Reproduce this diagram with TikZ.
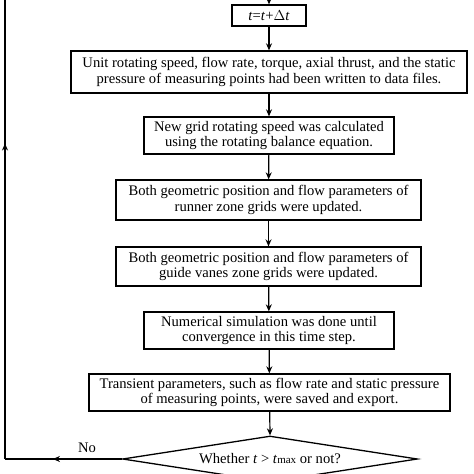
\documentclass[tikz,border=0pt]{standalone}
\usepackage{fontspec}
\setmainfont{Liberation Serif}
\usetikzlibrary{shapes.geometric,arrows.meta,decorations.markings}
\begin{document}
\begin{tikzpicture}[x=1pt,y=-1pt,
  box/.style={draw,line width=1.3pt,align=center,inner sep=0pt,font=\fontsize{14.6}{15.2}\selectfont},
  conn/.style={line width=1.2pt,-{Stealth[length=7pt,width=6pt]}},
  midarrow/.style={line width=1.2pt,decoration={markings,mark=at position #1 with {\arrow{Stealth[length=7pt,width=6pt]}}},postaction={decorate}}]
\useasboundingbox (0,0) rectangle (474,474);
\clip (0,0) rectangle (474,474);
\node[box,minimum width=74pt,minimum height=21pt] (b1) at (269,15.5) {\textit{t}=\textit{t}+$\Delta$\textit{t}};
\node[box,minimum width=396pt,minimum height=42pt] (b2) at (269,72) {Unit rotating speed, flow rate, torque, axial thrust, and the static\\pressure of measuring points had been written to data files.};
\node[box,minimum width=250pt,minimum height=37pt] (b3) at (269,135.5) {New grid rotating speed was calculated\\using the rotating balance equation.};
\node[box,minimum width=305pt,minimum height=40pt] (b4) at (268.5,200) {Both geometric position and flow parameters of\\runner zone grids were updated.};
\node[box,minimum width=305pt,minimum height=39pt] (b5) at (268.5,266.5) {Both geometric position and flow parameters of\\guide vanes zone grids were updated.};
\node[box,minimum width=250pt,minimum height=37pt] (b6) at (269,330.5) {Numerical simulation was done until\\convergence in this time step.};
\node[box,minimum width=361pt,minimum height=37pt] (b7) at (269.5,392.5) {Transient parameters, such as flow rate and static pressure\\of measuring points, were saved and export.};
\node[box,shape=diamond,aspect=6.4,minimum width=295pt,minimum height=46pt] (dec) at (270,459) {Whether \textit{t} > \textit{t}{\fontsize{11}{12}\selectfont max} or not?};
\coordinate (top) at (269,-5);
\coordinate (c1) at (5,459);
\coordinate (c2) at (5,-5);
\node[font=\fontsize{14.6}{15}\selectfont] (no) at (87,448) {No};
\draw[conn] (top) -- (b1);
\draw[conn] (b1) -- (b2);
\draw[conn] (b2) -- (b3);
\draw[conn] (b3) -- (b4);
\draw[conn] (b4) -- (b5);
\draw[conn] (b5) -- (b6);
\draw[conn] (b6) -- (b7);
\draw[conn] (b7) -- (dec.north);
\draw[midarrow=0.59] (dec.west) -- (c1);
\draw[midarrow=0.68] (c1) -- (c2);
\end{tikzpicture}
\end{document}
